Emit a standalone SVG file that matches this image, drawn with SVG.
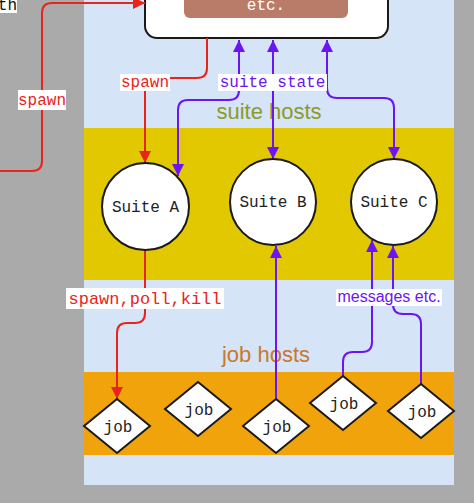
<svg xmlns="http://www.w3.org/2000/svg" width="474" height="503" viewBox="0 0 474 503">
<style>
.mono{font-family:"Liberation Mono","DejaVu Sans Mono",monospace}
.sans{font-family:"Liberation Sans",Arial,sans-serif}
.node{fill:#fff;stroke:#1a1a1a;stroke-width:2}
.red{fill:none;stroke:#e8241c;stroke-width:2}
.pur{fill:none;stroke:#6b14f5;stroke-width:2}
.lbl{fill:#fff}
.nt{font-size:16px;fill:#222;text-anchor:middle}
</style>
<defs>
<marker id="ar" viewBox="0 0 12 12" markerUnits="userSpaceOnUse" markerWidth="12" markerHeight="12" refX="12" refY="6" orient="auto-start-reverse"><path d="M0,0 L12,6 L0,12 z" fill="#e8241c"/></marker>
<marker id="ap" viewBox="0 0 12 12" markerUnits="userSpaceOnUse" markerWidth="12" markerHeight="12" refX="12" refY="6" orient="auto-start-reverse"><path d="M0,0 L12,6 L0,12 z" fill="#6b14f5"/></marker>
</defs>
<rect x="0" y="0" width="474" height="503" fill="#aaaaaa"/>
<rect x="84" y="0" width="370" height="485" fill="#d5e4f7"/>
<rect x="84" y="128" width="370" height="152" fill="#e1c800"/>
<rect x="84" y="372" width="370" height="83" fill="#f0a30a"/>
<text x="269" y="119" class="sans" font-size="22" fill="#8c9a2c" text-anchor="middle">suite hosts</text>
<text x="266" y="362" class="sans" font-size="22" fill="#c8782e" text-anchor="middle">job hosts</text>
<g id="th-label"><rect x="0" y="0" width="17" height="13" class="lbl"/><text x="17" y="10" class="mono" font-size="16" fill="#111" text-anchor="end">th</text></g>
<g id="server">
<rect x="145" y="-40" width="243" height="78" rx="12" class="node"/>
<rect x="184" y="-20" width="164" height="38" rx="6" fill="#b87c68"/>
<text x="266" y="10" class="mono" font-size="16" fill="#fff" text-anchor="middle">etc.</text>
</g>
<g id="connectors">
<path class="red" d="M0,171 H32 Q42,171 42,161 V13 Q42,3 52,3 H145" marker-end="url(#ar)"/>
<path class="red" d="M207,38 V68 Q207,78 197,78 H155 Q145,78 145,88 V163" marker-end="url(#ar)"/>
<path class="red" d="M145,250 V313 Q145,323 135,323 H127 Q117,323 117,333 V399" marker-end="url(#ar)"/>
<path class="pur" d="M239,40 V90 Q239,100 229,100 H188 Q178,100 178,110 V176" marker-start="url(#ap)" marker-end="url(#ap)"/>
<path class="pur" d="M273,40 V159" marker-start="url(#ap)" marker-end="url(#ap)"/>
<path class="pur" d="M327,40 V88 Q327,98 337,98 H384 Q394,98 394,108 V159" marker-start="url(#ap)" marker-end="url(#ap)"/>
<path class="pur" d="M276,399 V246" marker-end="url(#ap)"/>
<path class="pur" d="M343,376 V362 Q343,352 353,352 H362 Q372,352 372,342 V240" marker-end="url(#ap)"/>
<path class="pur" d="M421,384 V324 Q421,314 411,314 H403 Q393,314 393,304 V246" marker-end="url(#ap)"/>
</g>
<g id="labels">
<rect x="18" y="90" width="48" height="20" class="lbl"/>
<text x="42" y="105" class="mono" font-size="16" fill="#e8241c" text-anchor="middle">spawn</text>
<rect x="120" y="74" width="50" height="17" class="lbl"/>
<text x="145" y="87" class="mono" font-size="16" fill="#e8241c" text-anchor="middle">spawn</text>
<rect x="218" y="74" width="109" height="17" class="lbl"/>
<text x="272.5" y="87" class="mono" font-size="16" fill="#6b14f5" text-anchor="middle">suite state</text>
<rect x="66" y="288" width="158" height="21" class="lbl"/>
<text x="145" y="304" class="mono" font-size="17" fill="#e8241c" text-anchor="middle">spawn,poll,kill</text>
<rect x="336" y="289" width="106" height="17" class="lbl"/>
<text x="389" y="302" class="sans" font-size="16" fill="#6b14f5" text-anchor="middle">messages etc.</text>
</g>
<g id="suiteA"><circle cx="145.5" cy="206.5" r="43.5" class="node"/><text x="145.5" y="211.5" class="mono nt">Suite A</text></g>
<g id="suiteB"><circle cx="273" cy="202" r="43" class="node"/><text x="273" y="207" class="mono nt">Suite B</text></g>
<g id="suiteC"><circle cx="394" cy="202" r="43" class="node"/><text x="394" y="207" class="mono nt">Suite C</text></g>
<g id="job1"><path d="M117,399 L150,426 L117,453 L84,426 Z" class="node"/><text x="118" y="432" class="mono nt">job</text></g>
<g id="job2"><path d="M198,382 L231,409 L198,436 L165,409 Z" class="node"/><text x="199" y="415" class="mono nt">job</text></g>
<g id="job3"><path d="M276,399 L309,426 L276,453 L243,426 Z" class="node"/><text x="277" y="432" class="mono nt">job</text></g>
<g id="job4"><path d="M343,376 L376,403 L343,430 L310,403 Z" class="node"/><text x="344" y="409" class="mono nt">job</text></g>
<g id="job5"><path d="M421,384 L454,411 L421,438 L388,411 Z" class="node"/><text x="422" y="417" class="mono nt">job</text></g>
</svg>
